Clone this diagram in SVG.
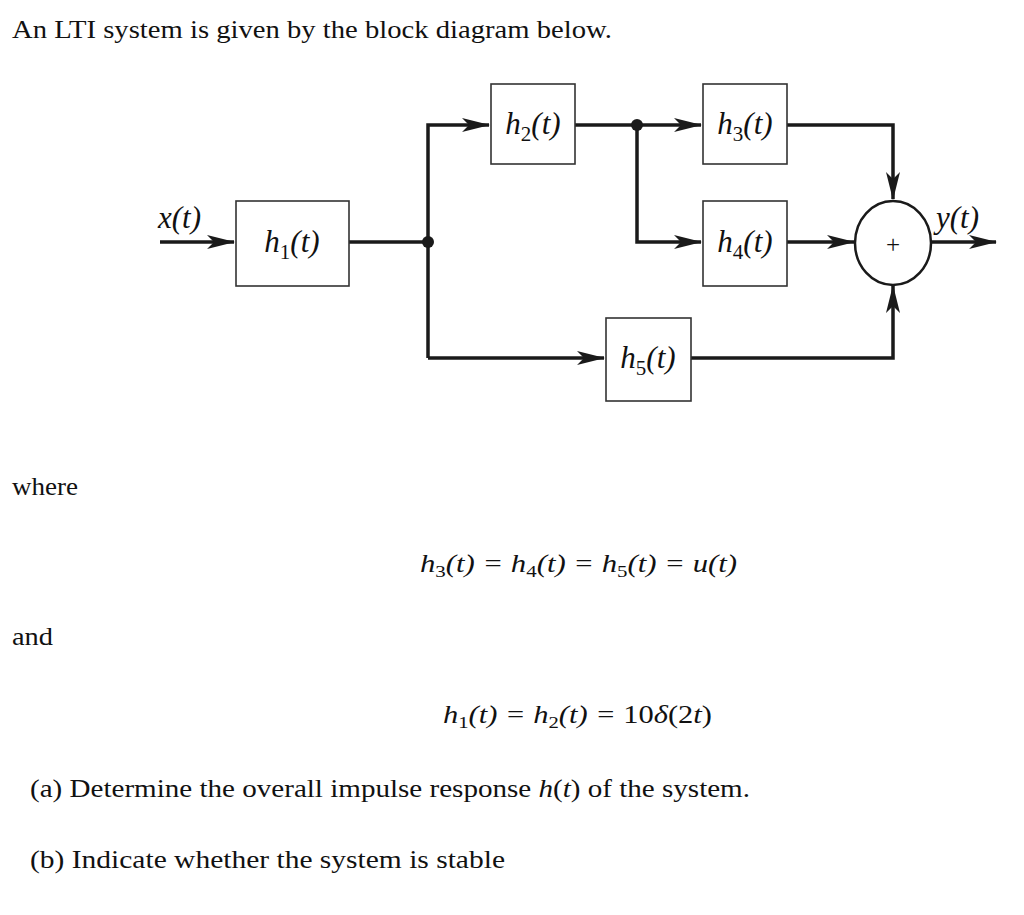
<svg xmlns="http://www.w3.org/2000/svg" width="1024" height="915" viewBox="0 0 1024 915">
<style>
.t{font-family:"Liberation Serif",serif;font-size:25px;fill:#111}
.m{font-family:"Liberation Serif",serif;font-size:25px;fill:#111;font-style:italic}
.L{font-family:"Liberation Serif",serif;font-size:31px;fill:#111;font-style:italic}
.b{fill:#fff;stroke:#333;stroke-width:1.6}
.l{fill:none;stroke:#1a1a1a;stroke-width:3.5}
.s{font-size:17px;font-style:normal}
.S{font-size:21px;font-style:normal}
</style>
<defs>
<marker id="A" viewBox="0 0 28 14" refX="27" refY="7" markerWidth="28" markerHeight="14" markerUnits="userSpaceOnUse" orient="auto"><path d="M0,0 L28,7 L0,14 L7,7 Z" fill="#1a1a1a"/></marker></defs>
<text class="t" x="12" y="38" textLength="600" lengthAdjust="spacingAndGlyphs">An LTI system is given by the block diagram below.</text>
<g id="connectors">
<line class="l" x1="160" y1="242" x2="234" y2="242" marker-end="url(#A)"/>
<line class="l" x1="349" y1="242" x2="428" y2="242"/>
<polyline class="l" points="428,358 428,125 489,125" marker-end="url(#A)"/>
<line class="l" x1="575" y1="125" x2="701" y2="125" marker-end="url(#A)"/>
<polyline class="l" points="637,125 637,242 701,242" marker-end="url(#A)"/>
<polyline class="l" points="787,125 893,125 893,199" marker-end="url(#A)"/>
<line class="l" x1="787" y1="242" x2="854" y2="242" marker-end="url(#A)"/>
<polyline class="l" points="428,358 604,358" marker-end="url(#A)"/>
<polyline class="l" points="691,358 893,358 893,286" marker-end="url(#A)"/>
<line class="l" x1="932" y1="242" x2="996" y2="242" marker-end="url(#A)"/>
<circle cx="428" cy="242" r="6" fill="#1a1a1a"/>
<circle cx="637" cy="125" r="6" fill="#1a1a1a"/>
</g>
<text class="L" x="158" y="228">x(t)</text>
<text class="L" x="936" y="228">y(t)</text>
<g id="h1"><rect class="b" x="236" y="201" width="113" height="85"/><text class="L" x="292" y="252" text-anchor="middle">h<tspan class="S" dy="7">1</tspan><tspan dy="-7">(t)</tspan></text></g>
<g id="h2"><rect class="b" x="491" y="84" width="84" height="80"/><text class="L" x="533" y="134" text-anchor="middle">h<tspan class="S" dy="7">2</tspan><tspan dy="-7">(t)</tspan></text></g>
<g id="h3"><rect class="b" x="703" y="84" width="84" height="80"/><text class="L" x="745" y="134" text-anchor="middle">h<tspan class="S" dy="7">3</tspan><tspan dy="-7">(t)</tspan></text></g>
<g id="h4"><rect class="b" x="703" y="201" width="84" height="85"/><text class="L" x="745" y="252" text-anchor="middle">h<tspan class="S" dy="7">4</tspan><tspan dy="-7">(t)</tspan></text></g>
<g id="h5"><rect class="b" x="606" y="318" width="85" height="83"/><text class="L" x="648" y="368" text-anchor="middle">h<tspan class="S" dy="7">5</tspan><tspan dy="-7">(t)</tspan></text></g>
<g id="sum"><ellipse cx="893" cy="243" rx="38" ry="42" fill="#fff" stroke="#1a1a1a" stroke-width="2.5"/><text class="t" x="893" y="253" text-anchor="middle" font-size="30">+</text></g>
<text class="t" x="12" y="495" textLength="66" lengthAdjust="spacingAndGlyphs">where</text>
<text class="m" x="420" y="572" textLength="317" lengthAdjust="spacingAndGlyphs">h<tspan class="s" dy="5">3</tspan><tspan dy="-5">(t) = h</tspan><tspan class="s" dy="5">4</tspan><tspan dy="-5">(t) = h</tspan><tspan class="s" dy="5">5</tspan><tspan dy="-5">(t) = u(t)</tspan></text>
<text class="t" x="12" y="645" textLength="41" lengthAdjust="spacingAndGlyphs">and</text>
<text class="m" x="443" y="723" textLength="269" lengthAdjust="spacingAndGlyphs">h<tspan class="s" dy="5">1</tspan><tspan dy="-5">(t) = h</tspan><tspan class="s" dy="5">2</tspan><tspan dy="-5">(t) = </tspan><tspan font-style="normal">10</tspan>δ<tspan font-style="normal">(2</tspan>t<tspan font-style="normal">)</tspan></text>
<text class="t" x="30" y="797" textLength="720" lengthAdjust="spacingAndGlyphs">(a) Determine the overall impulse response <tspan font-style="italic">h</tspan>(<tspan font-style="italic">t</tspan>) of the system.</text>
<text class="t" x="30" y="868" textLength="475" lengthAdjust="spacingAndGlyphs">(b) Indicate whether the system is stable</text>
</svg>
